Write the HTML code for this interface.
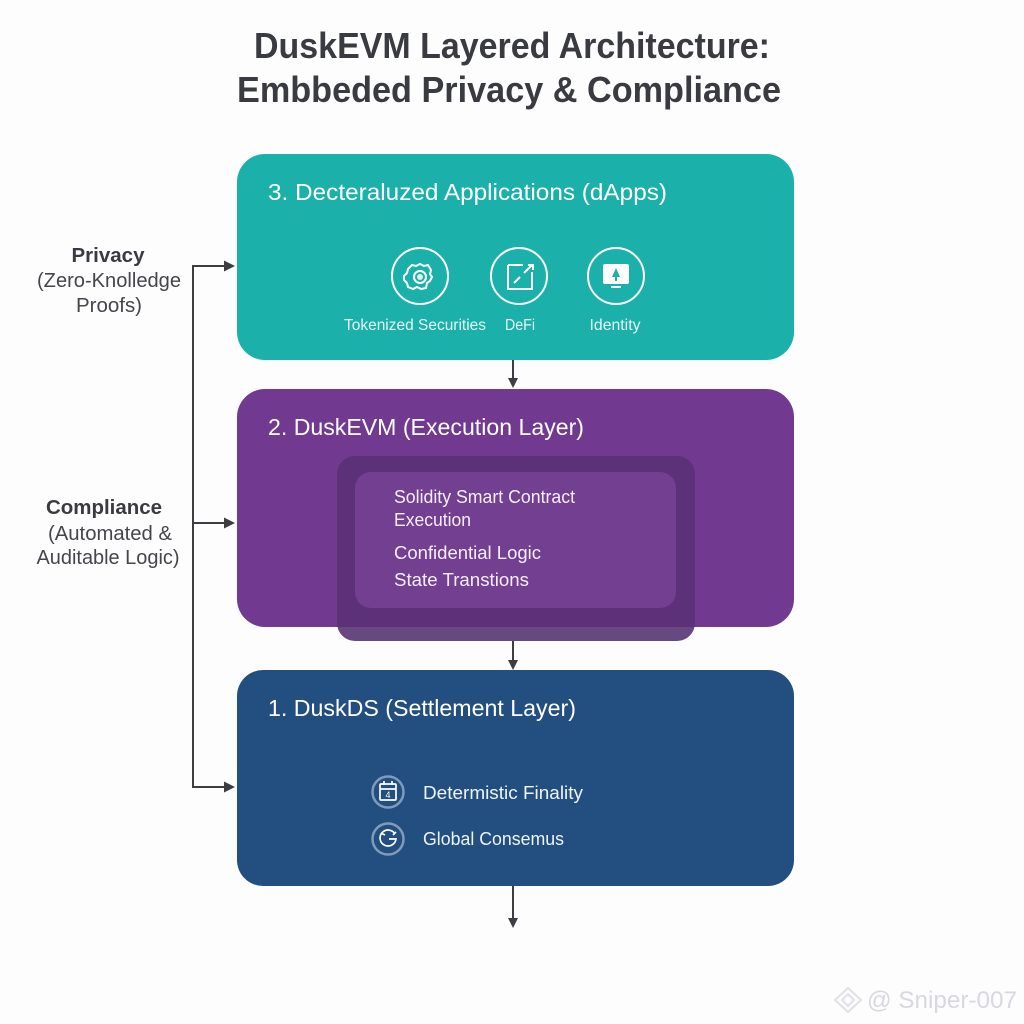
<!DOCTYPE html>
<html><head><meta charset="utf-8"><style>
html,body{margin:0;padding:0;background:#fdfdfe}
svg{display:block}
text{font-family:"Liberation Sans",sans-serif}
</style></head><body>
<svg width="1024" height="1024" viewBox="0 0 1024 1024" xmlns="http://www.w3.org/2000/svg">
<rect width="1024" height="1024" fill="#fdfdfe"/>
<g fill="#3a3b40" font-weight="700" font-size="36" text-anchor="middle">
<text x="512" y="58" textLength="516" lengthAdjust="spacingAndGlyphs">DuskEVM Layered Architecture:</text>
<text x="509" y="102" textLength="544" lengthAdjust="spacingAndGlyphs">Embbeded Privacy &amp; Compliance</text>
</g>
<rect x="237" y="154" width="557" height="206" rx="28" fill="#1bb0aa"/>
<rect x="237" y="389" width="557" height="238" rx="28" fill="#71398f"/>
<path d="M337 474a18 18 0 0 1 18-18H677a18 18 0 0 1 18 18V627H337z" fill="#5d3179"/>
<path d="M337 627H695V623a18 18 0 0 1-18 18H355a18 18 0 0 1-18-18z" fill="#684880"/>
<rect x="355" y="472" width="321" height="136" rx="16" fill="#733f91"/>
<rect x="237" y="670" width="557" height="216" rx="26" fill="#234f80"/>
<g fill="#fff" font-size="23.5">
<text x="268" y="200" textLength="399" lengthAdjust="spacingAndGlyphs">3. Decteraluzed Applications (dApps)</text>
<text x="268" y="435" textLength="316" lengthAdjust="spacingAndGlyphs">2. DuskEVM (Execution Layer)</text>
<text x="268" y="716" textLength="308" lengthAdjust="spacingAndGlyphs">1. DuskDS (Settlement Layer)</text>
</g>
<g fill="none" stroke="#fff" stroke-width="2">
<circle cx="420" cy="276" r="28"/><circle cx="519" cy="276" r="28"/><circle cx="616" cy="276" r="28"/>
<path d="M412 265l4 1 4-2 4 2 4-1 3 5-1 4 2 3-2 4-3 2-1 5-5 1-4-2-4 2-5-2-1-4-3-3 0-4 3-3 1-4z"/>
<circle cx="420" cy="277" r="6"/>
<path d="M508 265h15M508 265v24h24v-17M514 283l6-6M524 273l8-8M528 265h5v5"/>
</g>
<rect x="603" y="264" width="26" height="20" rx="2" fill="#fff"/>
<rect x="611" y="286" width="10" height="2" fill="#fff"/>
<path d="M616 268l4 9h-3v4h-2v-4h-3z" fill="#1bb0aa"/>
<circle cx="420" cy="277" r="3" fill="#d8f2f0"/>
<g fill="#e4f6f5" font-size="15.5" text-anchor="middle">
<text x="415" y="330" textLength="142" lengthAdjust="spacingAndGlyphs">Tokenized Securities</text>
<text x="520" y="330" textLength="30" lengthAdjust="spacingAndGlyphs">DeFi</text>
<text x="615" y="330" textLength="51" lengthAdjust="spacingAndGlyphs">Identity</text>
</g>
<g fill="#f5eef8" font-size="18">
<text x="394" y="503" textLength="181" lengthAdjust="spacingAndGlyphs">Solidity Smart Contract</text>
<text x="394" y="526" textLength="77" lengthAdjust="spacingAndGlyphs">Execution</text>
<text x="394" y="559" textLength="147" lengthAdjust="spacingAndGlyphs">Confidential Logic</text>
<text x="394" y="586" textLength="135" lengthAdjust="spacingAndGlyphs">State Transtions</text>
</g>
<g fill="none" stroke="#7f9bb9" stroke-width="2.5">
<circle cx="388" cy="792" r="15.5"/><circle cx="388" cy="839" r="15.5"/>
</g>
<g fill="none" stroke="#fff" stroke-width="1.7">
<rect x="380" y="784" width="16" height="16" rx="1"/>
<path d="M380 789h16M384 781v4M392 781v4"/>
<path d="M395 834a8 8 0 1 0 1 5h-7M381 833l4 2M396 832l-3 3"/>
</g>
<text x="388" y="798" fill="#fff" font-size="9" text-anchor="middle">4</text>
<g fill="#eef3f8" font-size="18">
<text x="423" y="799" textLength="160" lengthAdjust="spacingAndGlyphs">Determistic Finality</text>
<text x="423" y="845" textLength="141" lengthAdjust="spacingAndGlyphs">Global Consemus</text>
</g>
<g fill="none" stroke="#3d3d42" stroke-width="2">
<path d="M228 266H193V787H228M193 523H228"/>
<path d="M513 360V383M513 641V665M513 886V922"/>
</g>
<g fill="#3d3d42">
<path d="M235 266l-11-5.500v11zM235 523l-11-5.500v11zM235 787l-11-5.500v11z"/>
<path d="M513 388l-5-10h10zM513 670l-5-10h10zM513 928l-5-10h10z"/>
</g>
<g fill="#45464b" font-size="20" text-anchor="middle">
<text x="108" y="262" font-weight="700" fill="#3a3b40" textLength="73" lengthAdjust="spacingAndGlyphs">Privacy</text>
<text x="109" y="287" textLength="144" lengthAdjust="spacingAndGlyphs">(Zero-Knolledge</text>
<text x="109" y="312" textLength="66" lengthAdjust="spacingAndGlyphs">Proofs)</text>
<text x="104" y="514" font-weight="700" fill="#3a3b40" textLength="116" lengthAdjust="spacingAndGlyphs">Compliance</text>
<text x="110" y="540" textLength="124" lengthAdjust="spacingAndGlyphs">(Automated &amp;</text>
<text x="108" y="564" textLength="143" lengthAdjust="spacingAndGlyphs">Auditable Logic)</text>
</g>
<path d="M848 988l13 12-13 12-13-12z M848 994l6 6-6 6-6-6z" fill="none" stroke="#e0e0e6" stroke-width="2"/>
<text x="867" y="1008" fill="#d8d8df" font-size="24" textLength="150" lengthAdjust="spacingAndGlyphs">@ Sniper-007</text>
</svg>
</body></html>
